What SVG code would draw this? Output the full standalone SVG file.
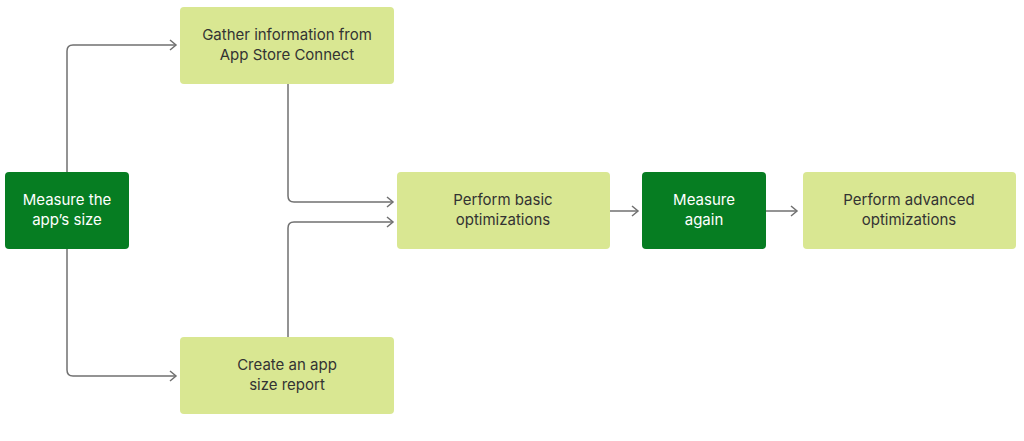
<svg xmlns="http://www.w3.org/2000/svg" width="1024" height="441" viewBox="0 0 1024 441">
<style>
.d{fill:#067D22}.l{fill:#D9E792}
text{font-family:Inter,"Liberation Sans",sans-serif;font-size:15px;text-anchor:middle}
.d+text{fill:#fff}.l+text{fill:#333}
.c path{fill:none;stroke:#707070;stroke-width:1.5;marker-end:url(#a)}
</style>
<defs><marker id="a" markerWidth="12" markerHeight="12" refX="9" refY="6" orient="auto" markerUnits="userSpaceOnUse"><path d="M3,1 L9,6 L3,11" fill="none" stroke="#707070" stroke-width="1.5"/></marker></defs>
<rect width="1024" height="441" fill="#fff"/>
<g class="c">
<path d="M67,172 V51 Q67,45 73,45 H176"/>
<path d="M67,249 V370 Q67,376 73,376 H176"/>
<path d="M288,84 V196 Q288,202 294,202 H393"/>
<path d="M288,337 V228 Q288,222 294,222 H393"/>
<path d="M610,211 H638"/>
<path d="M766,211 H797"/>
</g>
<g id="n1"><rect class="d" x="5" y="172" width="124" height="77" rx="4"/><text x="67" y="205">Measure the<tspan x="67" dy="20">app’s size</tspan></text></g>
<g id="n2"><rect class="l" x="180" y="7" width="214" height="77" rx="4"/><text x="287" y="40">Gather information from<tspan x="287" dy="20">App Store Connect</tspan></text></g>
<g id="n3"><rect class="l" x="180" y="337" width="214" height="77" rx="4"/><text x="287" y="370">Create an app<tspan x="287" dy="20">size report</tspan></text></g>
<g id="n4"><rect class="l" x="397" y="172" width="213" height="77" rx="4"/><text x="503" y="205">Perform basic<tspan x="503" dy="20">optimizations</tspan></text></g>
<g id="n5"><rect class="d" x="642" y="172" width="124" height="77" rx="4"/><text x="704" y="205">Measure<tspan x="704" dy="20">again</tspan></text></g>
<g id="n6"><rect class="l" x="803" y="172" width="213" height="77" rx="4"/><text x="909" y="205">Perform advanced<tspan x="909" dy="20">optimizations</tspan></text></g>
</svg>
